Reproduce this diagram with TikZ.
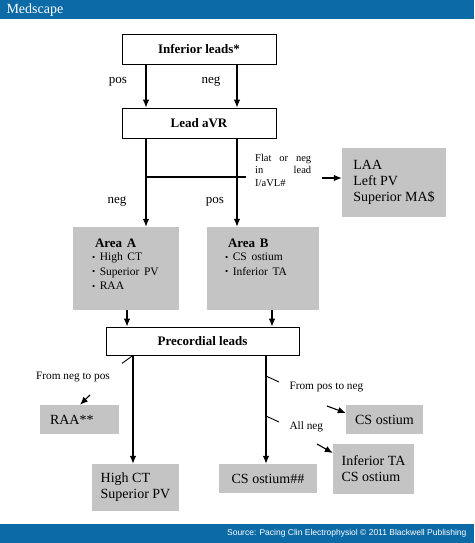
\documentclass[tikz,border=0pt]{standalone}
\usepackage{fontspec}
\setmainfont{Liberation Serif}
\setsansfont{Liberation Sans}
\usetikzlibrary{arrows, arrows.meta}

\definecolor{medblue}{RGB}{12,106,166}
\definecolor{boxgray}{RGB}{196,196,196}

\tikzset{
  whitebox/.style={draw, line width=.8pt, fill=white, inner sep=0pt,
    font=\bfseries\fontsize{13}{15}\selectfont},
  graybox/.style={fill=boxgray, inner sep=0pt, align=left,
    font=\fontsize{14}{16}\selectfont},
  lbl/.style={font=\fontsize{11.3}{13}\selectfont},
  signlbl/.style={font=\fontsize{13}{15}\selectfont},
  flow/.style={->, line width=1.1pt},
}
\newcommand{\areabullet}{\raisebox{.3pt}{\fontsize{9}{9}\selectfont\textbullet}\ }

\begin{document}
\begin{tikzpicture}[>={Latex[length=8pt,width=6.5pt]}, x=1pt, y=-1pt]

\useasboundingbox (0,0) rectangle (474,543);
\fill[medblue] (0,0) rectangle (474,19);
\fill[medblue] (0,524) rectangle (474,543);
\node[anchor=west, text=white, font=\fontsize{14}{14}\selectfont] (logo) at (3,10) {Medscape};
\node[anchor=east, text=white, font=\sffamily\fontsize{8.5}{10}\selectfont] (src) at (470,533.5)
  {Source: Pacing Clin Electrophysiol \textcopyright{} 2011 Blackwell Publishing};

% top part
\node[whitebox, minimum width=154pt, minimum height=30pt] (inf) at (199,49) {Inferior leads*};
\node[whitebox, minimum width=154pt, minimum height=30pt] (avr) at (199,123) {Lead aVR};
\coordinate (colL) at (146,0);
\coordinate (colR) at (237,0);

\draw[flow] (inf.south -| colL) -- (avr.north -| colL);
\draw[flow] (inf.south -| colR) -- (avr.north -| colR);
\node[signlbl] (posA) at (118,82) {pos};
\node[signlbl] (negA) at (211,82) {neg};

\node[graybox, minimum width=106pt, minimum height=83pt, text width=68pt, inner xsep=19pt] (areaA) at (126,268.5)
  {{\bfseries\fontsize{13}{15}\selectfont\hspace{3pt}Area A}\\[-1pt]
   \fontsize{11.5}{14.5}\selectfont \areabullet High CT\\ \areabullet Superior PV\\ \areabullet RAA\\[-7pt] \mbox{}};
\node[graybox, minimum width=112pt, minimum height=83pt, text width=76pt, inner xsep=18pt] (areaB) at (263,268.5)
  {{\bfseries\fontsize{13}{15}\selectfont\hspace{3pt}Area B}\\[-1pt]
   \fontsize{11.5}{14.5}\selectfont \areabullet CS ostium\\ \areabullet Inferior TA\\ \strut\\[-7pt] \mbox{}};

\draw[flow] (avr.south -| colL) -- (areaA.north -| colL);
\draw[flow] (avr.south -| colR) -- (areaB.north -| colR);
\node[signlbl] (negB) at (117,202) {neg};
\node[signlbl] (posB) at (215,202) {pos};

\coordinate (flatend) at (246,177);
\draw[line width=1.1pt] (colL |- flatend) -- (flatend);
\node[anchor=north west, inner sep=0pt, align=left, font=\fontsize{10.5}{12.5}\selectfont] (flat) at (255,154)
  {\makebox[56pt][s]{Flat or neg}\\ \makebox[56pt][s]{in\hfill lead}\\ I/aVL\#};
\node[graybox, minimum width=104pt, minimum height=69pt] (laa) at (394,182.5)
  {LAA\\ Left PV\\ Superior MA\$};
\coordinate (flatarr) at (322,178);
\draw[flow] (flatarr) -- (flatarr -| laa.west);

% precordial leads
\node[whitebox, minimum width=193pt, minimum height=28pt] (pre) at (202.5,341) {Precordial leads};
\coordinate (areaAout) at (127,0);
\coordinate (areaBout) at (272,0);
\draw[flow] (areaA.south -| areaAout) -- (pre.north -| areaAout);
\draw[flow] (areaB.south -| areaBout) -- (pre.north -| areaBout);

\coordinate (lowL) at (133,0);
\coordinate (lowR) at (266,0);
\node[graybox, minimum width=87pt, minimum height=47pt] (hct) at (135.5,487.5)
  {High CT\\ Superior PV};
\node[graybox, minimum width=98pt, minimum height=29pt, align=center] (csoB) at (268,478.5) {CS ostium\#\#};
\draw[flow] (pre.south -| lowL) -- (hct.north -| lowL);
\draw[flow] (pre.south -| lowR) -- (csoB.north -| lowR);

% left branch
\draw[line width=.9pt] (pre.south -| lowL) -- ++(-11,8);
\node[lbl] (negpos) at (73,377) {From neg to pos};
\node[graybox, minimum width=79pt, minimum height=29pt, text width=59pt, inner xsep=10pt] (raa) at (79.5,419.5) {RAA**};
\coordinate (raaarr) at (90,395);
\draw[flow] (raaarr) -- (raa.north -| 80,0);

% right branch
\draw[line width=.9pt] (lowR |- 0,376) -- ++(13,6);
\draw[line width=.9pt] (lowR |- 0,416) -- ++(13,6);
\node[lbl, anchor=west] (posneg) at (286,387) {From pos to neg};
\node[lbl, anchor=west] (allneg) at (286,427) {All neg};
\node[graybox, minimum width=77pt, minimum height=29pt, align=center] (csoA) at (384.5,419.5) {CS ostium};
\node[graybox, minimum width=81pt, minimum height=50pt] (inta) at (373.5,469)
  {Inferior TA\\ CS ostium};
\coordinate (csoarr) at (327,406);
\coordinate (intaarr) at (317,444);
\draw[flow] (csoarr) -- (csoA.west |- 0,413);
\draw[flow] (intaarr) -- (inta.west |- 0,453);

\end{tikzpicture}
\end{document}
